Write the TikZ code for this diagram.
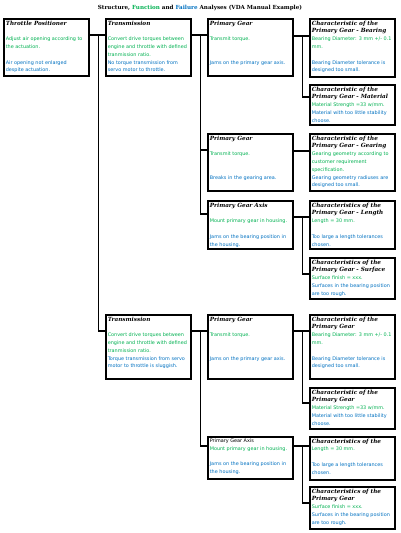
\documentclass[tikz,border=0pt]{standalone}
\usepackage{fontspec}
\newfontfamily\bodyfont{DejaVu Sans}
\newfontfamily\headfont{DejaVu Serif}
\usetikzlibrary{positioning}
\definecolor{funcgreen}{RGB}{0,176,80}
\definecolor{failblue}{RGB}{0,112,192}

% box contents
\newcommand{\ttl}[1]{{\headfont\bfseries\itshape\fontsize{5.7}{7.8}\selectfont #1}}
\newcommand{\fn}[1]{{\color{funcgreen}#1}}
\newcommand{\fl}[1]{{\color{failblue}#1}}
\newcommand{\boxtext}[2]{\parbox[t][#1pt][t]{81pt}{\raggedright\bodyfont\fontsize{4.9}{7.8}\selectfont #2}}
\newcommand{\gap}{\\[7.8pt]}
\newcommand{\gapp}{\\[15.6pt]}

\begin{document}
\begin{tikzpicture}[
    x=1pt, y=-1pt,
    elem/.style={rectangle, draw=black, line width=1.6pt, anchor=north west, inner sep=2pt, minimum width=85pt},
    link/.style={draw=black, line width=1.1pt},
]
\useasboundingbox (0,0) rectangle (400,533);

\node [font=\headfont\bfseries\fontsize{5.6}{6.5}\selectfont] (head) at (200,8)
  {Structure, \textcolor{funcgreen}{Function} and \textcolor{failblue}{Failure} Analyses (VDA Manual Example)};

% upper branch
\node [elem] (thr) at (3,18) {\boxtext{53}{\ttl{Throttle Positioner}\gap
  \fn{Adjust air opening according to\\ the actuation.}\gap
  \fl{Air opening not enlarged\\ despite actuation.}}};

\node [elem] (trA) at (105,18) {\boxtext{53}{\ttl{Transmission}\gap
  \fn{Convert drive torques between\\ engine and throttle with defined\\ tranmission ratio.}\\
  \fl{No torque transmission from\\ servo motor to throttle.}}};

\node [elem] (pgA) at (207,18) {\boxtext{53}{\ttl{Primary Gear}\gap
  \fn{Transmit torque.}\gapp
  \fl{Jams on the primary gear axis.}}};

\node [elem] (cbA) at (309,18) {\boxtext{54}{\ttl{Characteristic of the\\ Primary Gear - Bearing}\\
  \fn{Bearing Diameter: 3 mm +/- 0.1\\ mm.}\gap
  \fl{Bearing Diameter tolerance is\\ designed too small.}}};

\node [elem] (cmA) at (309,84) {\boxtext{36}{\ttl{Characteristic of the\\ Primary Gear - Material}\\
  \fn{Material Strength =33 w/mm.}\\
  \fl{Material with too little stability\\ choose.}}};

\node [elem] (pgB) at (207,133) {\boxtext{53}{\ttl{Primary Gear}\gap
  \fn{Transmit torque.}\gapp
  \fl{Breaks in the gearing area.}}};

\node [elem] (cgA) at (309,133) {\boxtext{53}{\ttl{Characteristic of the\\ Primary Gear - Gearing}\\
  \fn{Gearing geometry according to\\ customer requirement\\ specification.}\\
  \fl{Gearing geometry radiuses are\\ designed too small.}}};

\node [elem] (paA) at (207,200) {\boxtext{44}{\ttl{Primary Gear Axis}\gap
  \fn{Mount primary gear in housing.}\gap
  \fl{Jams on the bearing position in\\ the housing.}}};

\node [elem] (clA) at (309,200) {\boxtext{44}{\ttl{Characteristics of the\\ Primary Gear - Length}\\
  \fn{Length = 30 mm.}\gap
  \fl{Too large a length tolerances\\ chosen.}}};

\node [elem] (csA) at (309,257) {\boxtext{37}{\ttl{Characteristics of the\\ Primary Gear - Surface}\\
  \fn{Surface finish = xxx.}\\
  \fl{Surfaces in the bearing position\\ are too rough.}}};

% lower branch
\node [elem] (trB) at (105,314) {\boxtext{60}{\ttl{Transmission}\gap
  \fn{Convert drive torques between\\ engine and throttle with defined\\ tranmission ratio.}\\
  \fl{Torque transmission from servo\\ motor to throttle is sluggish.}}};

\node [elem] (pgC) at (207,314) {\boxtext{60}{\ttl{Primary Gear}\gap
  \fn{Transmit torque.}\gapp
  \fl{Jams on the primary gear axis.}}};

\node [elem] (cbB) at (309,314) {\boxtext{60}{\ttl{Characteristic of the\\ Primary Gear}\\
  \fn{Bearing Diameter: 3 mm +/- 0.1\\ mm.}\gap
  \fl{Bearing Diameter tolerance is\\ designed too small.}}};

\node [elem] (cmB) at (309,387) {\boxtext{37}{\ttl{Characteristic of the\\ Primary Gear}\\
  \fn{Material Strength =33 w/mm.}\\
  \fl{Material with too little stability\\ choose.}}};

\node [elem] (paB) at (207,436) {\boxtext{38}{Primary Gear Axis\\
  \fn{Mount primary gear in housing.}\gap
  \fl{Jams on the bearing position in\\ the housing.}}};

\node [elem] (clB) at (309,436) {\boxtext{39}{\ttl{Characteristics of the}\\
  \fn{Length = 30 mm.}\gap
  \fl{Too large a length tolerances\\ chosen.}}};

\node [elem] (csB) at (309,486) {\boxtext{38}{\ttl{Characteristics of the\\ Primary Gear}\\
  \fn{Surface finish = xxx.}\\
  \fl{Surfaces in the bearing position\\ are too rough.}}};

% connectors
\draw [link] ([yshift=-17pt]thr.north east) -- ([yshift=-17pt]trA.north west);
\draw [link] ([yshift=-17pt]thr.north east) ++(9,0) |- ([yshift=-17pt]trB.north west);

\draw [link] ([yshift=-17pt]trA.north east) -- ([yshift=-17pt]pgA.north west);
\draw [link] ([yshift=-17pt]trA.north east) ++(9,0) |- ([yshift=-17pt]pgB.north west);
\draw [link] ([yshift=-17pt]trA.north east) ++(9,0) |- ([yshift=-14pt]paA.north west);
\draw [link] ([yshift=-17pt]trB.north east) -- ([yshift=-17pt]pgC.north west);
\draw [link] ([yshift=-17pt]trB.north east) ++(9,0) |- ([yshift=-10pt]paB.north west);

\draw [link] ([yshift=-18pt]pgA.north east) -- ([yshift=-18pt]cbA.north west);
\draw [link] ([yshift=-18pt]pgA.north east) ++(9,0) |- ([yshift=-13pt]cmA.north west);
\draw [link] ([yshift=-18pt]pgB.north east) -- ([yshift=-18pt]cgA.north west);
\draw [link] ([yshift=-17pt]paA.north east) -- ([yshift=-17pt]clA.north west);
\draw [link] ([yshift=-17pt]paA.north east) ++(9,0) |- ([yshift=-17pt]csA.north west);
\draw [link] ([yshift=-17pt]pgC.north east) -- ([yshift=-17pt]cbB.north west);
\draw [link] ([yshift=-17pt]pgC.north east) ++(9,0) |- ([yshift=-16pt]cmB.north west);
\draw [link] ([yshift=-10pt]paB.north east) -- ([yshift=-10pt]clB.north west);
\draw [link] ([yshift=-10pt]paB.north east) ++(9,0) |- ([yshift=-17pt]csB.north west);

\end{tikzpicture}
\end{document}
